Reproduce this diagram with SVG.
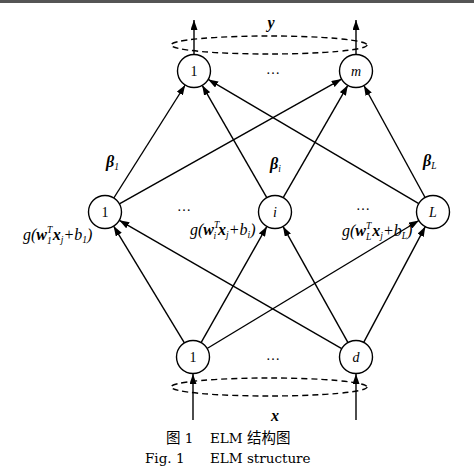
<svg xmlns="http://www.w3.org/2000/svg" width="474" height="476" viewBox="0 0 474 476">
<style>
.node circle{fill:#fff;stroke:#000;stroke-width:1.4}
.edge{stroke:#000;stroke-width:1.4;fill:none;marker-end:url(#ah)}
.ell{fill:none;stroke:#000;stroke-width:1.4;stroke-dasharray:6 4}
text{font-family:"Liberation Serif","DejaVu Serif",serif;fill:#000}
.nl{font-size:14px;font-style:italic;text-anchor:middle}
.n1{font-size:14px;text-anchor:middle}
.lbl{font-size:16px;font-style:italic}
.b{font-weight:bold}
.s{font-size:9.5px}
.dots{font-size:14px;text-anchor:middle}
.cap{font-family:"DejaVu Serif","Noto Sans CJK SC",serif;font-size:13.5px}
.cjk{font-family:"Noto Sans CJK SC",sans-serif;font-size:14.5px}
</style>
<defs>
<marker id="ah" markerUnits="userSpaceOnUse" markerWidth="10" markerHeight="7" refX="10" refY="3.5" orient="auto">
<path d="M0,0 L10,3.5 L0,7 z" fill="#000"/>
</marker>
</defs>
<rect x="0" y="0" width="474" height="3" fill="#555"/>
<g id="connectors">
<line class="edge" x1="194" y1="54" x2="194" y2="20"/>
<line class="edge" x1="356" y1="54" x2="356" y2="20"/>
<line class="edge" x1="193" y1="420" x2="193" y2="374"/>
<line class="edge" x1="356" y1="420" x2="356" y2="374"/>
<line class="edge" x1="113.8" y1="198" x2="185.2" y2="85"/>
<line class="edge" x1="119.4" y1="203.9" x2="341.6" y2="79.1"/>
<line class="edge" x1="266.8" y1="197.7" x2="202.2" y2="85.3"/>
<line class="edge" x1="283.2" y1="197.7" x2="347.8" y2="85.3"/>
<line class="edge" x1="418.8" y1="203.6" x2="208.2" y2="79.4"/>
<line class="edge" x1="425.1" y1="197.5" x2="363.9" y2="85.5"/>
<line class="edge" x1="184.4" y1="342.9" x2="113.6" y2="226.1"/>
<line class="edge" x1="201.1" y1="342.6" x2="266.9" y2="226.4"/>
<line class="edge" x1="207.1" y1="348.5" x2="418.9" y2="220.5"/>
<line class="edge" x1="341.7" y1="348.7" x2="119.3" y2="220.3"/>
<line class="edge" x1="348" y1="342.6" x2="283" y2="226.4"/>
<line class="edge" x1="363.7" y1="342.4" x2="425.3" y2="226.6"/>
</g>
<ellipse class="ell" cx="269" cy="45" rx="98" ry="9"/>
<ellipse class="ell" cx="269" cy="387" rx="98" ry="9"/>
<g id="out1" class="node"><circle cx="194" cy="71" r="16.5"/><text class="n1" x="194" y="76">1</text></g>
<g id="outm" class="node"><circle cx="356" cy="71" r="16.5"/><text class="nl" x="356" y="76">m</text></g>
<g id="hid1" class="node"><circle cx="105" cy="212" r="16.5"/><text class="n1" x="105" y="217">1</text></g>
<g id="hidi" class="node"><circle cx="275" cy="212" r="16.5"/><text class="nl" x="275" y="217">i</text></g>
<g id="hidL" class="node"><circle cx="433" cy="212" r="16.5"/><text class="nl" x="433" y="217">L</text></g>
<g id="in1" class="node"><circle cx="193" cy="357" r="16.5"/><text class="n1" x="193" y="362">1</text></g>
<g id="ind" class="node"><circle cx="356" cy="357" r="16.5"/><text class="nl" x="356" y="362">d</text></g>
<g id="labels">
<text class="nl b" x="271" y="28" style="font-size:16px">y</text>
<text class="nl b" x="275" y="421" style="font-size:16px">x</text>
<text class="dots" x="273" y="74">…</text>
<text class="dots" x="273" y="360">…</text>
<text class="dots" x="184" y="211">…</text>
<text class="dots" x="363" y="210">…</text>
<text class="lbl" x="106" y="167"><tspan class="b">β</tspan><tspan class="s" dy="3">1</tspan></text>
<text class="lbl" x="270" y="169"><tspan class="b">β</tspan><tspan class="s" dy="3">i</tspan></text>
<text class="lbl" x="423" y="166"><tspan class="b">β</tspan><tspan class="s" dy="3">L</tspan></text>
<text class="lbl" x="23" y="240">g(<tspan class="b">w</tspan><tspan class="s" dy="-7">T</tspan><tspan class="s" dx="-5.3" dy="11">1</tspan><tspan class="b" dx="1" dy="-4">x</tspan><tspan class="s" dy="3">j</tspan><tspan dy="-3">+b</tspan><tspan class="s" dy="3">1</tspan><tspan dy="-3">)</tspan></text>
<text class="lbl" x="190" y="235">g(<tspan class="b">w</tspan><tspan class="s" dy="-7">T</tspan><tspan class="s" dx="-5.3" dy="11">i</tspan><tspan class="b" dx="2" dy="-4">x</tspan><tspan class="s" dy="3">j</tspan><tspan dy="-3">+b</tspan><tspan class="s" dy="3">i</tspan><tspan dy="-3">)</tspan></text>
<text class="lbl" x="342" y="236">g(<tspan class="b">w</tspan><tspan class="s" dy="-7">T</tspan><tspan class="s" dx="-5.3" dy="11">L</tspan><tspan class="b" dx="1" dy="-4">x</tspan><tspan class="s" dy="3">j</tspan><tspan dy="-3">+b</tspan><tspan class="s" dy="3">L</tspan><tspan dy="-3">)</tspan></text>
<text class="cap" x="166" y="443"><tspan class="cjk">图</tspan> 1<tspan x="210">ELM </tspan><tspan class="cjk">结构图</tspan></text>
<text class="cap" x="145" y="463">Fig. 1<tspan x="210">ELM structure</tspan></text>
</g>
</svg>
